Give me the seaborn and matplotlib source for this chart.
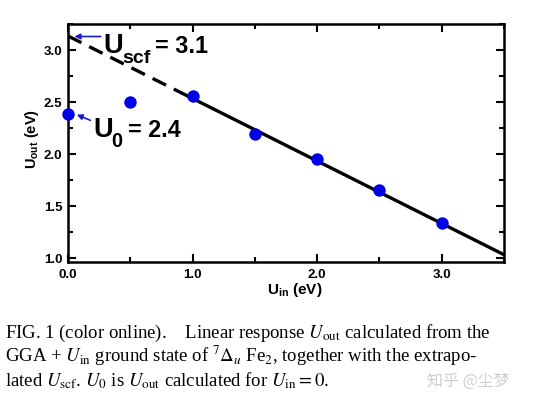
import numpy as np
import pandas as pd
import matplotlib
matplotlib.use("Agg")
import matplotlib.pyplot as plt
from matplotlib.ticker import MultipleLocator, FormatStrFormatter
import seaborn as sns

# data
u_in = [0.0, 0.5, 1.0, 1.5, 2.0, 2.5, 3.0]
u_out = [2.385, 2.50, 2.55, 2.19, 1.95, 1.655, 1.33]
fit_intercept = 3.13   # U_scf
fit_slope = -0.60
dash_end = 0.92
x_max = 3.5

sns.set_style("white")
plt.rcParams["font.family"] = ["Liberation Sans", "DejaVu Sans"]
plt.rcParams["text.color"] = "black"
plt.rcParams["axes.labelcolor"] = "black"
plt.rcParams["xtick.color"] = "black"
plt.rcParams["ytick.color"] = "black"
plt.rcParams["mathtext.fontset"] = "custom"
plt.rcParams["mathtext.rm"] = "Liberation Sans:bold"
plt.rcParams["mathtext.bf"] = "Liberation Sans:bold"
plt.rcParams["mathtext.it"] = "Liberation Sans:bold"

fig = plt.figure(figsize=(5.54, 4.06), dpi=100)
ax = fig.add_axes([68 / 554, 1 - 263 / 406, 436 / 554, 238.5 / 406])

df = pd.DataFrame({"u_in": u_in, "u_out": u_out})
fit = pd.DataFrame({"x": [0.0, dash_end, x_max]})
fit["y"] = fit_intercept + fit_slope * fit["x"]

ax.plot(fit["x"][:2], fit["y"][:2], color="black", lw=2.4, ls=(0, (4.5, 2.6)))
ax.plot(fit["x"][1:], fit["y"][1:], color="black", lw=2.4)
sns.scatterplot(data=df, x="u_in", y="u_out", color="#0000e6", s=80,
                edgecolor="#0000e6", linewidth=0, zorder=3, clip_on=False, ax=ax)

ax.set_xlim(0, x_max)
ax.set_ylim(0.96, 3.25)
ax.xaxis.set_major_locator(MultipleLocator(1.0))
ax.xaxis.set_minor_locator(MultipleLocator(0.5))
ax.yaxis.set_major_locator(MultipleLocator(0.5))
ax.yaxis.set_minor_locator(MultipleLocator(0.25))
ax.xaxis.set_major_formatter(FormatStrFormatter("%.1f"))
ax.yaxis.set_major_formatter(FormatStrFormatter("%.1f"))
ax.tick_params(which="both", direction="in", top=True, right=True,
               bottom=True, left=True, width=1.5)
ax.tick_params(which="major", length=6, labelsize=9.5, pad=4)
ax.tick_params(which="minor", length=3.5)
for lab in ax.get_xticklabels() + ax.get_yticklabels():
    lab.set_fontweight("bold")
for sp in ax.spines.values():
    sp.set_linewidth(1.8)
    sp.set_color("black")

ax.set_xlabel(r"U$_{\rm in}$ (eV)", fontsize=11, fontweight="bold", labelpad=2)
ax.xaxis.set_label_coords(0.52, -0.075)
ax.set_ylabel(r"U$_{\rm out}$ (eV)", fontsize=10.5, fontweight="bold", labelpad=4)
ax.yaxis.set_label_coords(-0.063, 0.52)

# annotations
arrow = dict(arrowstyle="-|>", color="#1a1acc", lw=1.2, mutation_scale=8)
ax.annotate("", xy=(0.03, 3.125), xytext=(0.285, 3.125), arrowprops=arrow)
ax.annotate("", xy=(0.05, 2.385), xytext=(0.2, 2.31), arrowprops=arrow)

big = dict(fontweight="bold", ha="left", va="baseline")
ax.text(0.281, 2.981, "U", fontsize=19.7, **big)
ax.text(0.433, 2.885, "scf", fontsize=14, **big)
ax.text(0.698, 2.981, "= 3.1", fontsize=16.8, **big)
ax.text(0.200, 2.173, "U", fontsize=19.7, **big)
ax.text(0.345, 2.077, "0", fontsize=14.5, **big)
ax.text(0.481, 2.173, "= 2.4", fontsize=16.8, **big)

# caption
cap = dict(fontsize=13.5, family=["Liberation Serif", "DejaVu Serif"],
           math_fontfamily="stix", ha="left", va="baseline",
           transform=fig.transFigure)
lines = [
    r"FIG. 1 (color online).    Linear response $U_{\rm out}$ calculated from the",
    r"GGA + $U_{\rm in}$ ground state of $^{7}\Delta_u$ Fe$_2$, together with the extrapo-",
    r"lated $U_{\rm scf}$. $U_0$ is $U_{\rm out}$ calculated for $U_{\rm in} = 0$.",
]
for i, t in enumerate(lines):
    fig.text(5 / 554, 1 - (338 + 24 * i) / 406, t, **cap)
fig.text(427 / 554, 1 - 386 / 406, "知乎 @尘梦", fontsize=11.5, color="#cfcfcf",
         family=["Noto Sans CJK SC", "DejaVu Sans"], ha="left", va="baseline")

fig.savefig("out.png", dpi=100)
